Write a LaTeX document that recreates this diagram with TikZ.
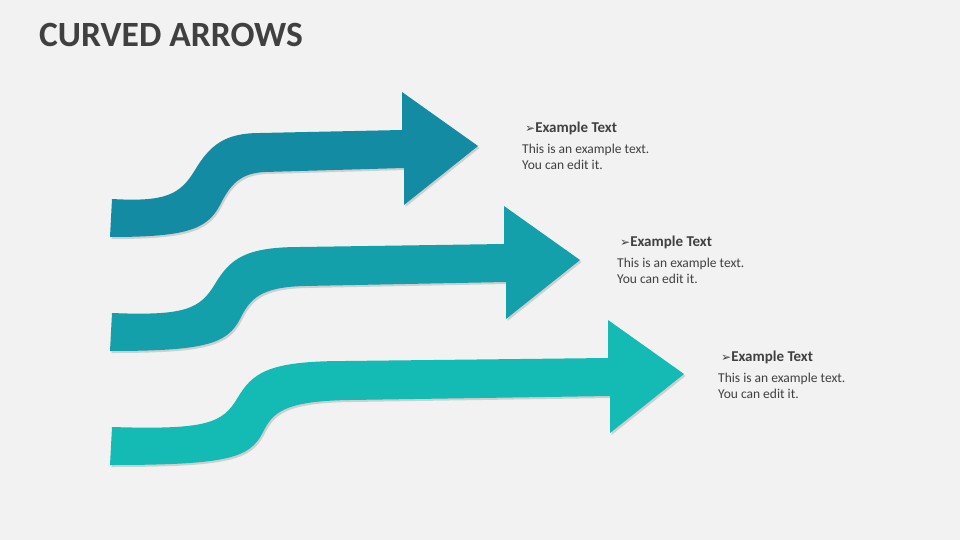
\documentclass[tikz,border=0pt]{standalone}
\usepackage{fontspec}
\setmainfont{Carlito}
\newfontfamily\symf{DejaVu Sans}
\usetikzlibrary{shadows}
\definecolor{bg}{HTML}{F2F2F2}
\definecolor{tgray}{HTML}{404040}
\definecolor{cA}{HTML}{138BA3}
\definecolor{cB}{HTML}{13A0AA}
\definecolor{cC}{HTML}{14BAB4}
\tikzset{arrowshape/.style={draw=none,drop shadow={shadow xshift=1.5pt,shadow yshift=-2pt,opacity=0.3}},
 head/.style={anchor=west,font=\bfseries\fontsize{15}{16}\selectfont,text=tgray,inner sep=0pt},
 body/.style={anchor=north west,align=left,font=\fontsize{13.5}{16}\selectfont,text=tgray,inner sep=0pt}}
% #1 dy, #2 sx (shaft start), #3 hx (head base), #4 colour
\newcommand\curvedarrow[4]{%
 \pgfmathsetmacro\m{(110+#2)/2}%
 \fill[#4,arrowshape] (112,199+#1) .. controls (\m-20,202+#1) and (\m-5,195+#1) .. (\m+10,170+#1)
   .. controls (\m+25,145+#1) and (\m+40,133+#1) .. (#2,133+#1) -- (#3,130+#1) -- (#3,92+#1)
   -- (#3+76,146+#1) -- (#3+2,205+#1) -- (#3+2,168+#1) -- (#2+5,172+#1)
   .. controls (\m+55,173+#1) and (\m+45,185+#1) .. (\m+35,205+#1)
   .. controls (\m+22,230+#1) and (\m,237+#1) .. (110,237+#1) -- cycle;}
\begin{document}
\begin{tikzpicture}[x=1pt,y=-1pt]
\fill[bg] (0,0) rectangle (960,540);
\useasboundingbox (0,0) rectangle (960,540);
\node[anchor=west,inner sep=0pt,font=\bfseries\fontsize{35.5}{38}\selectfont,text=tgray] (title) at (39,35) {CURVED ARROWS};
\curvedarrow{0}{260}{402}{cA}
\curvedarrow{114}{300}{504}{cB}
\curvedarrow{228}{345}{608}{cC}
\foreach \n/\x/\y in {a/522/128,b/617/242,c/718/357}{
 \node[head] (h\n) at (\x+3,\y) {{\symf\fontsize{12}{12}\selectfont ➢}Example Text};
 \node[body] (b\n) at (\x,\y+16) {This is an example text.\\You can edit it.};
}
\end{tikzpicture}
\end{document}
